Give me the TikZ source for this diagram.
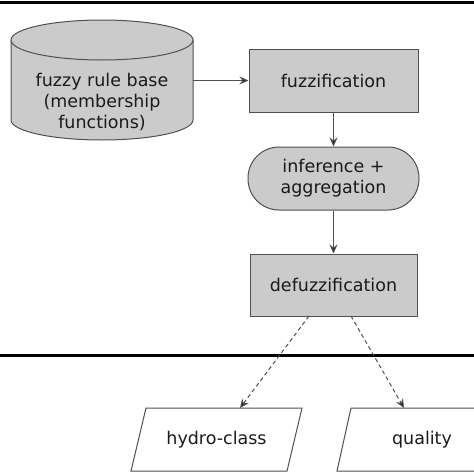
\documentclass[tikz,border=0pt]{standalone}
\usepackage{fontspec}
\setmainfont{DejaVu Sans}
\usetikzlibrary{arrows.meta}
\definecolor{boxfill}{HTML}{CBCBCB}
\definecolor{boxline}{HTML}{505050}
\definecolor{txt}{HTML}{1A1A1A}
\tikzset{
  proc/.style={draw=boxline, fill=boxfill, line width=1pt, text=txt, font=\fontsize{17.5}{21}\selectfont, align=center, inner sep=0pt},
  outbox/.style={draw=boxline, fill=white, line width=1pt},
  lbl/.style={text=txt, font=\fontsize{17.5}{21}\selectfont, align=center, inner sep=0pt},
  flow/.style={draw=boxline, line width=1pt, -{Stealth[length=9pt,width=8pt,fill=txt]}},
  dflow/.style={flow, dash pattern=on 4pt off 3pt},
  sep/.style={draw=black, line width=3pt}
}
\begin{document}
\begin{tikzpicture}[x=1pt,y=-1pt]
\useasboundingbox (0,0) rectangle (474,474);
\clip (0,0) rectangle (474,474);
% separators
\draw[sep] (-5,2.5) -- (480,2.5);
\draw[sep] (-5,355) -- (480,355);
% cylinder
\filldraw[draw=boxline, fill=boxfill, line width=1pt] (11,40) -- (11,120) arc[start angle=180,end angle=0,x radius=91,y radius=20] -- (193,40) -- cycle;
\filldraw[draw=boxline, fill=boxfill, line width=1pt] (102,40) ellipse[x radius=91,y radius=20];
\node[lbl] (rb) at (102,102) {fuzzy rule base\\(membership\\functions)};
\coordinate (rbE) at (193,80.5);
% process nodes
\node[proc, minimum width=169pt, minimum height=63pt] (fuzz) at (333.5,80.5) {fuzzification};
\node[proc, minimum width=171pt, minimum height=63pt, rounded corners=31pt] (inf) at (333.5,178.5) {inference +\\aggregation};
\node[proc, minimum width=167pt, minimum height=62pt] (defuzz) at (333.5,285) {defuzzification};
% output parallelograms
\filldraw[outbox] (146,408) -- (302,408) -- (287,471) -- (131,471) -- cycle;
\node[lbl] (hc) at (216.5,439.5) {hydro-class};
\filldraw[outbox] (351,408) -- (508,408) -- (493,471) -- (337,471) -- cycle;
\node[lbl] (q) at (422,439.5) {quality};
\coordinate (hcT) at (240,408);
\coordinate (qT) at (404,408);
\coordinate (dL) at (309,316);
\coordinate (dR) at (351,316);
% connectors
\draw[flow] (rbE) -- (fuzz.west);
\draw[flow] (fuzz.south) -- (inf.north);
\draw[flow] (inf.south) -- (defuzz.north);
\draw[dflow] (dL) -- (hcT);
\draw[dflow] (dR) -- (qT);
\end{tikzpicture}
\end{document}
